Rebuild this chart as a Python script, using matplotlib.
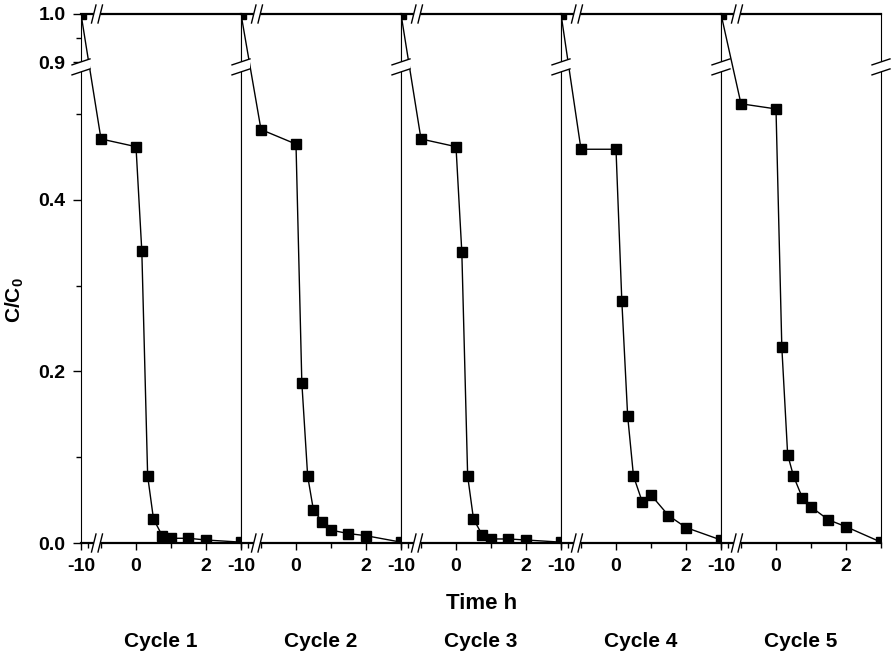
import numpy as np
import matplotlib
matplotlib.use("Agg")
import matplotlib.pyplot as plt
from matplotlib.patches import Polygon

plt.rcParams['font.family'] = ['Liberation Sans', 'DejaVu Sans']
plt.rcParams['font.weight'] = 'bold'
plt.rcParams['mathtext.fontset'] = 'custom'
plt.rcParams['mathtext.rm'] = 'Liberation Sans:bold'
plt.rcParams['mathtext.default'] = 'rm'

# time (h) for every cycle
t = [-10, -1, 0, 1/6, 1/3, 0.5, 0.75, 1, 1.5, 2, 3]

c1 = [1.0, 0.471, 0.462, 0.340, 0.078, 0.028, 0.0085, 0.0055, 0.0055, 0.0035, 0.001]
c2 = [1.0, 0.482, 0.465, 0.187, 0.078, 0.038, 0.025, 0.015, 0.011, 0.0085, 0.001]
c3 = [1.0, 0.471, 0.462, 0.339, 0.078, 0.028, 0.0093, 0.0047, 0.0047, 0.0035, 0.001]
c4 = [1.0, 0.459, 0.459, 0.282, 0.148, 0.078, 0.048, 0.056, 0.032, 0.018, 0.0035]
c5 = [1.0, 0.512, 0.506, 0.228, 0.103, 0.078, 0.053, 0.042, 0.027, 0.019, 0.001]
cycles = [c1, c2, c3, c4, c5]
names = ['Cycle 1', 'Cycle 2', 'Cycle 3', 'Cycle 4', 'Cycle 5']

# broken axes: lower part takes 90 %, upper part 10 %
YB0, YB1 = 0.555, 0.89
KY = YB0 / 9 / (1.0 - YB1)
XB1 = -1.114
XB0 = -10 + (3 - XB1) / 9


def fy(y):
    y = np.asarray(y, float)
    return np.where(y <= YB0, y, np.where(y >= YB1, YB0 + (y - YB1) * KY, YB0))


def iy(v):
    v = np.asarray(v, float)
    return np.where(v <= YB0, v, YB1 + (v - YB0) / KY)


def fx(x):
    x = np.asarray(x, float)
    return np.where(x >= XB1, x, np.where(x <= XB0, x - XB0 + XB1, XB1))


def ix(v):
    v = np.asarray(v, float)
    return np.where(v >= XB1, v, v - XB1 + XB0)


W, H = 160.0, 529.0  # panel size in pixels


def brk(ax, x0, y0, horizontal):
    # two slanted strokes with white between them, size in pixels
    if horizontal:
        a = [(-9, -8), (9, -2)]
        b = [(-9, 2), (9, 8)]
    else:
        a = [(-5.5, -9), (-1, 9)]
        b = [(1, -9), (5.5, 9)]
    pa = [(x0 + dx / W, y0 + dy / H) for dx, dy in a]
    pb = [(x0 + dx / W, y0 + dy / H) for dx, dy in b]
    ax.add_patch(Polygon([pa[0], pa[1], pb[1], pb[0]], closed=True, fc='white', ec='none',
                         transform=ax.transAxes, clip_on=False, zorder=6))
    for p in (pa, pb):
        ax.plot([p[0][0], p[1][0]], [p[0][1], p[1][1]], color='black', lw=1.0,
                transform=ax.transAxes, clip_on=False, zorder=7)


fig = plt.figure(figsize=(8.96, 6.56), dpi=100)

for i, c in enumerate(cycles):
    ax = fig.add_axes([(81 + 160 * i) / 896, 113 / 656, 160 / 896, 529 / 656])
    ax.set_xscale('function', functions=(fx, ix))
    ax.set_yscale('function', functions=(fy, iy))
    ax.plot(t, c, color='black', lw=1.0, marker='s', markersize=7, zorder=3)
    ax.set_xlim(-10, 3)
    ax.set_ylim(0, 1.0)
    ax.set_xticks([-10, 0, 2])
    ax.set_xticks([-9.8, -1, 1, 3], minor=True)
    ax.set_xticklabels(['-10', '0', '2'])
    ax.set_yticks([0.0, 0.2, 0.4, 0.9, 1.0])
    ax.set_yticks([0.1, 0.3, 0.5, 0.95], minor=True)
    ax.set_yticklabels(['0.0', '0.2', '0.4', '0.9', '1.0'])
    ax.tick_params(axis='x', which='major', direction='out', length=5, width=1,
                   labelsize=14, pad=6)
    ax.tick_params(axis='x', which='minor', direction='out', length=3.5, width=1)
    ax.tick_params(axis='y', which='major', direction='out', length=6, width=1,
                   labelsize=14, pad=5)
    ax.tick_params(axis='y', which='minor', direction='out', length=3.5, width=1)
    if i > 0:
        ax.tick_params(axis='y', which='both', left=False, labelleft=False)
    for s in ('top', 'bottom'):
        ax.spines[s].set_linewidth(1.6)
    for s in ('left', 'right'):
        ax.spines[s].set_linewidth(0.8)
    for lab in ax.get_xticklabels() + ax.get_yticklabels():
        lab.set_fontweight('bold')

    brk(ax, 0.1, 0.0, False)
    brk(ax, 0.1, 1.0, False)
    brk(ax, 0.0, 0.9, True)
    if i == len(cycles) - 1:
        brk(ax, 1.0, 0.9, True)

    fig.text((161 + 160 * i) / 896, 1 - 647 / 656, names[i], ha='center', va='baseline',
             fontsize=15, fontweight='bold')

fig.text(482 / 896, 1 - 609 / 656, 'Time h', ha='center', va='baseline',
         fontsize=16, fontweight='bold')
fig.text(15 / 896, 1 - 300 / 656, r'C/C$_0$', ha='center', va='center', rotation=90,
         fontsize=15, fontweight='bold')

fig.savefig('out.png', dpi=100)
